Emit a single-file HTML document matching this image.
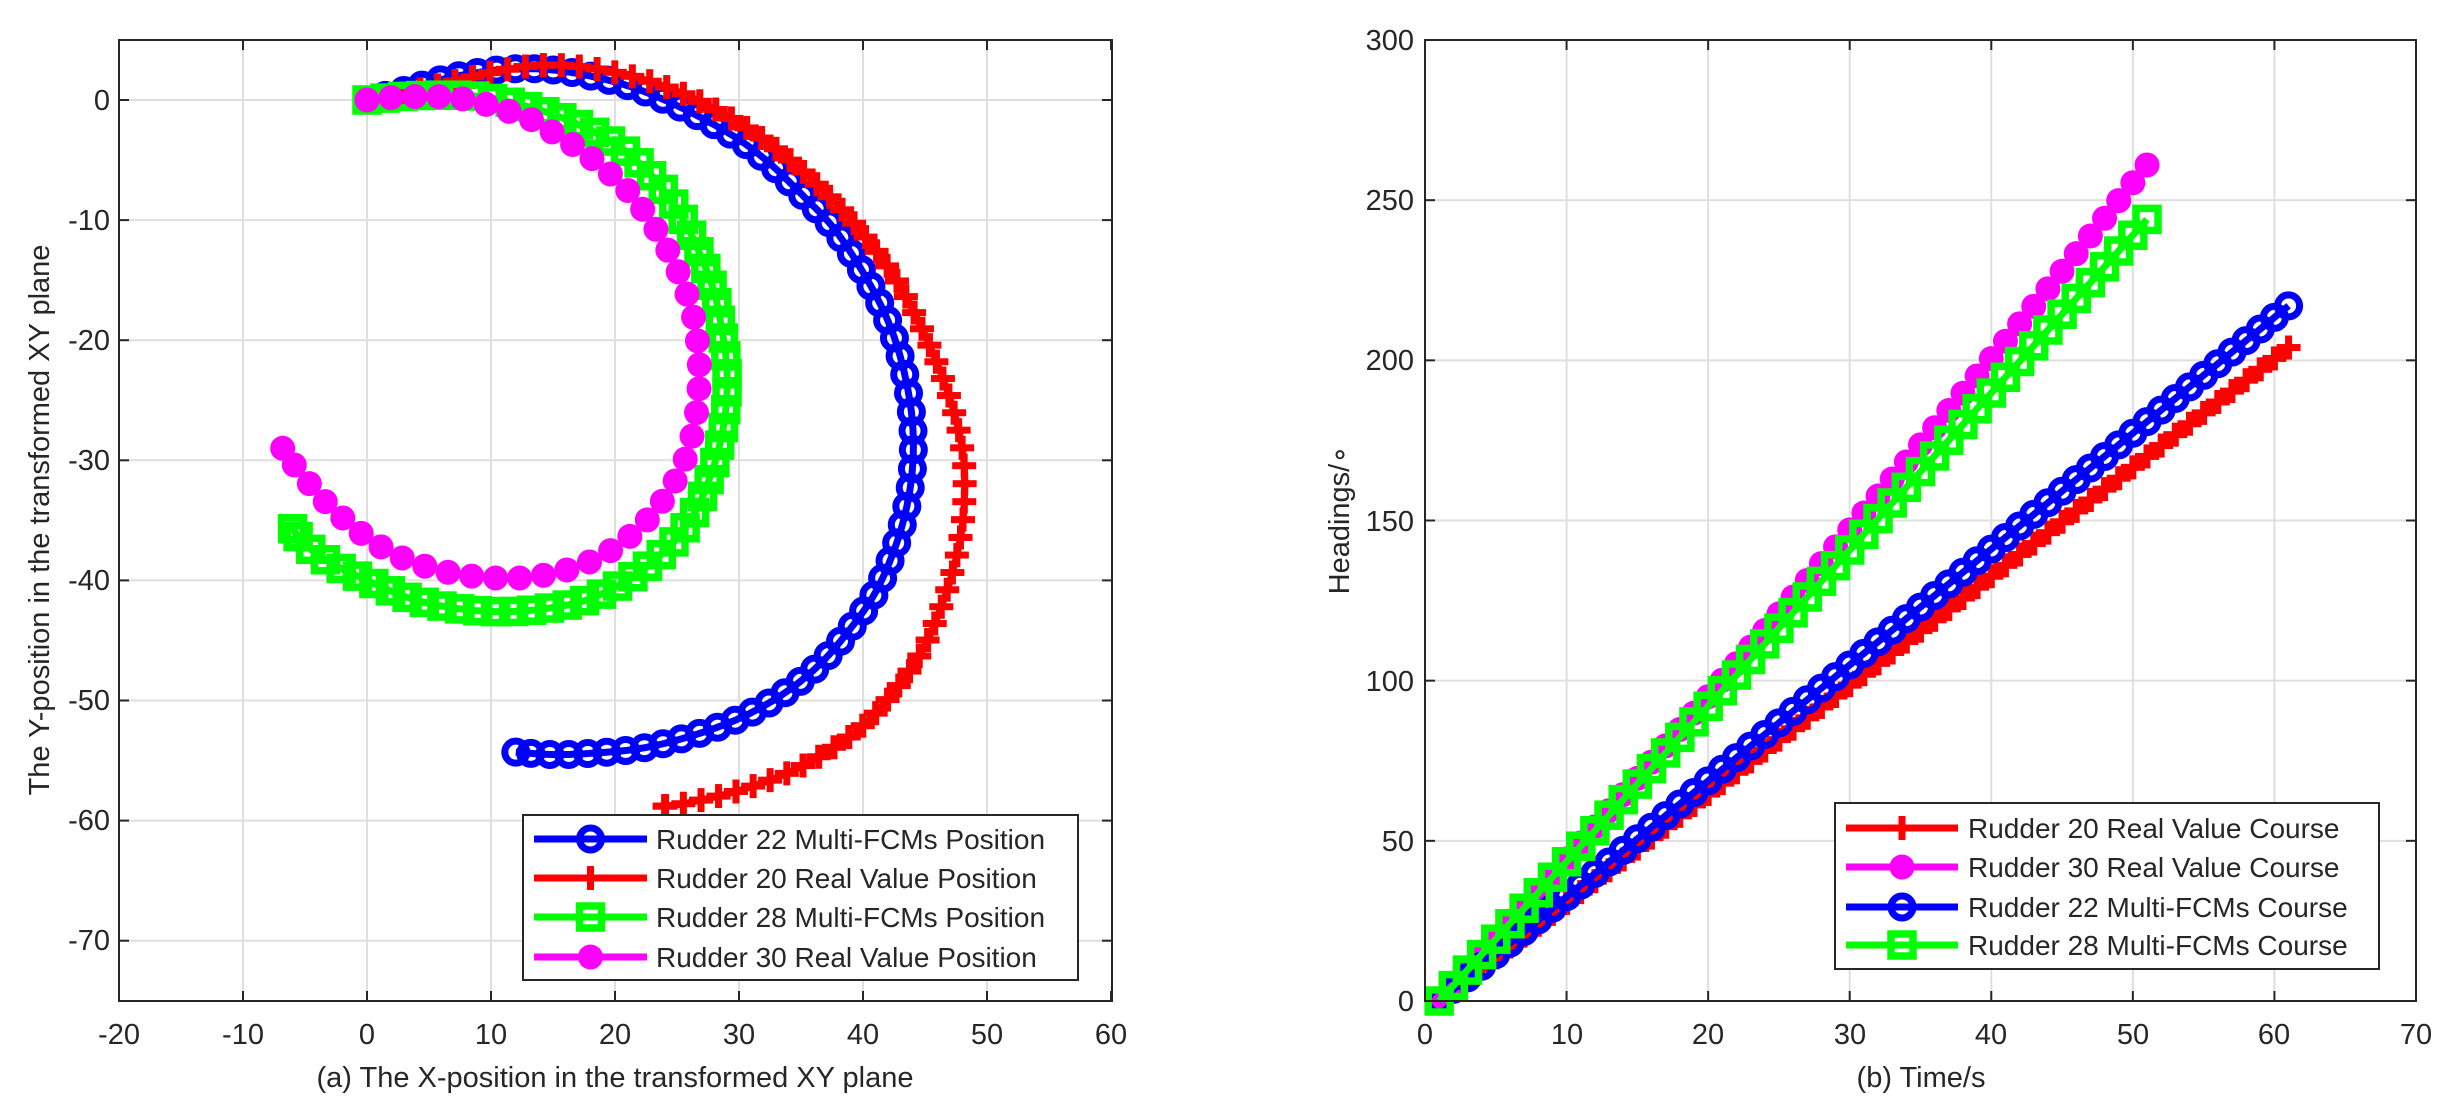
<!DOCTYPE html>
<html><head><meta charset="utf-8"><style>
html,body{margin:0;padding:0;background:#fff}
svg{display:block}
text{font-family:"Liberation Sans",Arial,sans-serif;fill:#262626}
.t{font-size:29px}
.lg{font-size:28px;fill:#000}
</style></head><body>
<svg id="s" width="2444" height="1116" viewBox="0 0 2444 1116" xmlns="http://www.w3.org/2000/svg">
<rect width="2444" height="1116" fill="#fff"/>
<g id="grid" stroke="#dfdfdf" stroke-width="2"></g>
<g id="data"></g>
<g id="axes" fill="none" stroke="#262626" stroke-width="2">
<rect x="119" y="40" width="993" height="961"/>
<rect x="1425" y="40" width="991" height="961"/>
</g>
<g id="ticks" stroke="#262626" stroke-width="2"></g>
<g class="t" text-anchor="middle">
<text x="119" y="1044">-20</text><text x="243" y="1044">-10</text><text x="367" y="1044">0</text><text x="491" y="1044">10</text><text x="615" y="1044">20</text><text x="739" y="1044">30</text><text x="863" y="1044">40</text><text x="987" y="1044">50</text><text x="1111" y="1044">60</text>
</g>
<g class="t" text-anchor="end">
<text x="110" y="110">0</text><text x="110" y="230">-10</text><text x="110" y="350">-20</text><text x="110" y="470">-30</text><text x="110" y="590">-40</text><text x="110" y="710">-50</text><text x="110" y="830">-60</text><text x="110" y="950">-70</text>
</g>
<text class="t" x="615" y="1087" text-anchor="middle">(a) The X-position in the transformed XY plane</text>
<text class="t" transform="translate(49,520) rotate(-90)" text-anchor="middle">The Y-position in the transformed XY plane</text>
<g class="t" text-anchor="middle">
<text x="1425" y="1044">0</text><text x="1567" y="1044">10</text><text x="1708" y="1044">20</text><text x="1850" y="1044">30</text><text x="1991" y="1044">40</text><text x="2133" y="1044">50</text><text x="2274" y="1044">60</text><text x="2416" y="1044">70</text>
</g>
<g class="t" text-anchor="end">
<text x="1414" y="1011">0</text><text x="1414" y="851">50</text><text x="1414" y="691">100</text><text x="1414" y="531">150</text><text x="1414" y="370">200</text><text x="1414" y="210">250</text><text x="1414" y="50">300</text>
</g>
<text class="t" x="1921" y="1087" text-anchor="middle">(b) Time/s</text>
<text class="t" transform="translate(1349,520) rotate(-90)" text-anchor="middle">Headings/∘</text>
<rect x="523" y="815" width="555" height="165" fill="#fff" stroke="#262626" stroke-width="2"/>
<g id="leg1"></g>
<g class="lg">
<text x="656" y="849">Rudder 22 Multi-FCMs Position</text>
<text x="656" y="888">Rudder 20 Real Value Position</text>
<text x="656" y="927">Rudder 28 Multi-FCMs Position</text>
<text x="656" y="967">Rudder 30 Real Value Position</text>
</g>
<rect x="1835" y="803" width="544" height="166" fill="#fff" stroke="#262626" stroke-width="2"/>
<g id="leg2"></g>
<g class="lg">
<text x="1968" y="838">Rudder 20 Real Value Course</text>
<text x="1968" y="877">Rudder 30 Real Value Course</text>
<text x="1968" y="917">Rudder 22 Multi-FCMs Course</text>
<text x="1968" y="955">Rudder 28 Multi-FCMs Course</text>
</g>
</svg>
<script>
(function(){
var NS="http://www.w3.org/2000/svg";
function el(p,n,a){var e=document.createElementNS(NS,n);for(var k in a)e.setAttribute(k,a[k]);p.appendChild(e);return e;}
var grid=document.getElementById('grid'),ticks=document.getElementById('ticks'),data=document.getElementById('data');
for(var i=-20;i<=60;i+=10){var x=119+(i+20)*12.4;if(i>-20&&i<60)el(grid,'line',{x1:x,y1:40,x2:x,y2:1001});
 el(ticks,'line',{x1:x,y1:1001,x2:x,y2:991});el(ticks,'line',{x1:x,y1:40,x2:x,y2:50});}
for(var j=0;j>=-70;j-=10){var y=100-j*12.01;el(grid,'line',{x1:119,y1:y,x2:1112,y2:y});
 el(ticks,'line',{x1:119,y1:y,x2:129,y2:y});el(ticks,'line',{x1:1112,y1:y,x2:1102,y2:y});}
for(var i=0;i<=70;i+=10){var x=1425+i*14.157;if(i>0&&i<70)el(grid,'line',{x1:x,y1:40,x2:x,y2:1001});
 el(ticks,'line',{x1:x,y1:1001,x2:x,y2:991});el(ticks,'line',{x1:x,y1:40,x2:x,y2:50});}
for(var j=0;j<=300;j+=50){var y=1001-j*3.2033;if(j>0&&j<300)el(grid,'line',{x1:1425,y1:y,x2:2416,y2:y});
 el(ticks,'line',{x1:1425,y1:y,x2:1435,y2:y});el(ticks,'line',{x1:2416,y1:y,x2:2406,y2:y});}

function marker(g,type,c,x,y){
 if(type=='o')el(g,'circle',{cx:x,cy:y,r:11,fill:'none',stroke:c,'stroke-width':7});
 else if(type=='.')el(g,'circle',{cx:x,cy:y,r:12.5,fill:c});
 else if(type=='s')el(g,'rect',{x:x-11,y:y-11,width:22,height:22,fill:'none',stroke:c,'stroke-width':7.5});
 else if(type=='+'){el(g,'rect',{x:x-12,y:y-3.5,width:24,height:7,fill:c});el(g,'rect',{x:x-3.5,y:y-12,width:7,height:24,fill:c});}
}
function crDense(P){var out=[];for(var i=0;i<P.length-1;i++){var p0=P[Math.max(0,i-1)],p1=P[i],p2=P[i+1],p3=P[Math.min(P.length-1,i+2)];
 for(var k=0;k<20;k++){var t=k/20,t2=t*t,t3=t2*t;
 out.push([0.5*((2*p1[0])+(-p0[0]+p2[0])*t+(2*p0[0]-5*p1[0]+4*p2[0]-p3[0])*t2+(-p0[0]+3*p1[0]-3*p2[0]+p3[0])*t3),
 0.5*((2*p1[1])+(-p0[1]+p2[1])*t+(2*p0[1]-5*p1[1]+4*p2[1]-p3[1])*t2+(-p0[1]+3*p1[1]-3*p2[1]+p3[1])*t3)]);}}
 out.push(P[P.length-1]);return out;}
function seriesSpaced(P,c,type,sp){
 var g=el(data,'g',{});var D=crDense(P);
 el(g,'polyline',{points:D.map(function(p){return p[0].toFixed(1)+','+p[1].toFixed(1)}).join(' '),fill:'none',stroke:c,'stroke-width':7,'stroke-linejoin':'round'});
 var acc=0,next=0;marker(g,type,c,D[0][0],D[0][1]);next=sp;
 for(var i=1;i<D.length;i++){var dx=D[i][0]-D[i-1][0],dy=D[i][1]-D[i-1][1],L=Math.sqrt(dx*dx+dy*dy);
  while(acc+L>=next){var f=(next-acc)/L;marker(g,type,c,D[i-1][0]+dx*f,D[i-1][1]+dy*f);next+=sp;}acc+=L;}
 var e=D[D.length-1];marker(g,type,c,e[0],e[1]);}
function L(pts){return pts.map(function(p){return [119+(p[0]+20)*12.4,100-p[1]*12.01];});}
var blue=L([[0,0],[3,0.8],[6,1.7],[9,2.3],[12,2.6],[15,2.5],[18,2],[21,1.2],[24,0],[27,-1.5],[30,-3.3],[32.5,-5.3],[35,-7.8],[37.5,-10.5],[39.5,-13.5],[41.3,-16.8],[42.6,-20],[43.5,-23.5],[44,-27],[44,-30.5],[43.5,-34],[42.5,-37.5],[41,-41],[39,-44],[36.5,-47],[33.5,-49.5],[30,-51.5],[26,-53],[22,-54],[18,-54.4],[15,-54.5],[12,-54.3]]);
var red=L([[0,0],[4,0.8],[8,1.8],[11,2.5],[14,2.9],[17,2.8],[20,2.3],[23,1.5],[26,0.3],[29,-1.3],[32,-3.3],[35,-5.8],[38,-8.8],[40.5,-11.8],[42.7,-15],[44.5,-18.5],[46,-22],[47.2,-25.5],[48,-29],[48.2,-32],[48,-35.5],[47.3,-39],[46.2,-42.5],[44.7,-46],[42.7,-49],[40.3,-51.8],[37.5,-54],[34,-56],[30,-57.5],[26,-58.5],[24,-58.8]]);
var green=L([[0,0],[3,0.3],[6,0.4],[9,0.3],[12,-0.3],[15,-1.2],[18,-2.5],[20.5,-4],[22.5,-5.8],[24.3,-8],[25.8,-10.5],[27,-13.2],[28,-16],[28.6,-19],[29,-22],[29,-25],[28.6,-28],[27.8,-31],[26.6,-34],[25,-36.5],[23,-38.5],[20.5,-40.3],[17.5,-41.7],[14,-42.4],[10.5,-42.6],[7,-42.3],[3.5,-41.5],[0,-40],[-3,-38.5],[-5,-37],[-6,-35.7]]);
var mag=L([[0,0],[2,0.2],[4.5,0.3],[7,0.2],[9,-0.2],[11,-0.8],[13,-1.5],[15,-2.7],[17,-4],[19,-5.6],[21,-7.5],[22.5,-9.5],[24,-12],[25.3,-14.8],[26.2,-17.5],[26.7,-20.5],[26.8,-23.5],[26.5,-26.5],[25.8,-29.5],[24.7,-32],[23,-34.5],[21,-36.5],[18.5,-38.2],[15.5,-39.3],[12.3,-39.8],[9,-39.7],[6,-39.2],[3,-38.2],[0.5,-36.8],[-1.5,-35.2],[-3.5,-33.3],[-5,-31.5],[-6,-30.2],[-6.8,-29]]);
seriesSpaced(blue,'#0000ff','o',19);
seriesSpaced(red,'#ff0000','+',18);
seriesSpaced(green,'#00ff00','s',18);
seriesSpaced(mag,'#ff00ff','.',24);
function R(t,h){return [1425+t*14.157,1001-h*3.2033];}
function seriesT(fn,t1,c,type){var g=el(data,'g',{});var pts=[];for(var t=1;t<=t1+1e-9;t+=1)pts.push(R(t,fn(t-1)));
 el(g,'polyline',{points:pts.map(function(p){return p[0].toFixed(1)+','+p[1].toFixed(1)}).join(' '),fill:'none',stroke:c,'stroke-width':7});
 pts.forEach(function(p){marker(g,type,c,p[0],p[1]);});}
seriesT(function(u){return 3.4*u;},61,'#ff0000','+');
seriesT(function(u){return 4.865*u+0.0071*u*u;},51,'#ff00ff','.');
seriesT(function(u){return 3.617*u;},61,'#0000ff','o');
seriesT(function(u){return 4.82*u+0.0012*u*u;},51,'#00ff00','s');
var l1=document.getElementById('leg1'),l2=document.getElementById('leg2');
function legRow(g,x1,x2,y,c,type){el(g,'line',{x1:x1,y1:y,x2:x2,y2:y,stroke:c,'stroke-width':7});marker(g,type,c,(x1+x2)/2,y);}
legRow(l1,534,647,839,'#0000ff','o');legRow(l1,534,647,878,'#ff0000','+');legRow(l1,534,647,917,'#00ff00','s');legRow(l1,534,647,957,'#ff00ff','.');
legRow(l2,1846,1958,828,'#ff0000','+');legRow(l2,1846,1958,867,'#ff00ff','.');legRow(l2,1846,1958,907,'#0000ff','o');legRow(l2,1846,1958,945,'#00ff00','s');
})();
</script>
</body></html>
